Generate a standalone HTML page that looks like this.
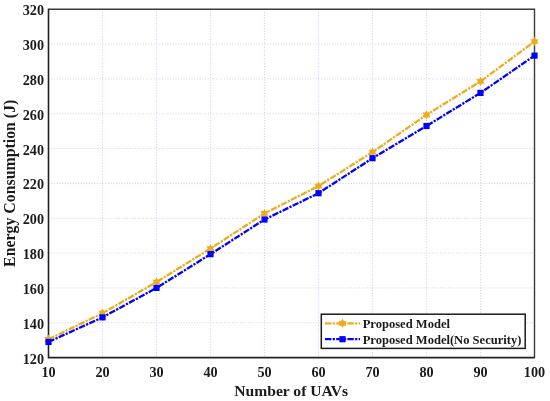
<!DOCTYPE html><html><head><meta charset="utf-8"><style>html,body{margin:0;padding:0;background:#fff}svg{display:block}text{font-family:"Liberation Serif",serif;font-weight:bold;fill:#1a1a1a}</style></head><body>
<svg width="550" height="401" viewBox="0 0 550 401">
<rect width="550" height="401" fill="#fff"/>
<path d="M102.50 9.3 V357.6 M156.50 9.3 V357.6 M210.50 9.3 V357.6 M264.50 9.3 V357.6 M318.50 9.3 V357.6 M372.50 9.3 V357.6 M426.50 9.3 V357.6 M480.50 9.3 V357.6 M48.5 322.77 H534.5 M48.5 287.94 H534.5 M48.5 253.11 H534.5 M48.5 218.28 H534.5 M48.5 183.45 H534.5 M48.5 148.62 H534.5 M48.5 113.79 H534.5 M48.5 78.96 H534.5 M48.5 44.13 H534.5" stroke="#ccccff" stroke-width="1" stroke-dasharray="1 1.7" fill="none"/>
<path d="M48.5 9.3 H534.5 V357.6" stroke="#3a3a3a" stroke-width="1.4" fill="none"/>
<path d="M48.5 8.8 V357.6 H535.0" stroke="#222" stroke-width="1.6" fill="none"/>
<path d="M48.50 339.31 L102.50 313.19 L156.50 282.02 L210.50 248.58 L264.50 213.40 L318.50 186.06 L372.50 152.10 L426.50 114.83 L480.50 81.40 L534.50 41.52" stroke="#EBAC1E" stroke-width="2.3" stroke-dasharray="6.4 1.3 2.2 1.3" fill="none"/>
<polygon points="48.50,334.61 49.85,336.98 52.57,336.96 51.20,339.31 52.57,341.66 49.85,341.65 48.50,344.01 47.15,341.65 44.43,341.66 45.80,339.31 44.43,336.96 47.15,336.98" fill="#EBAC1E"/>
<polygon points="102.50,308.49 103.85,310.85 106.57,310.84 105.20,313.19 106.57,315.54 103.85,315.53 102.50,317.89 101.15,315.53 98.43,315.54 99.80,313.19 98.43,310.84 101.15,310.85" fill="#EBAC1E"/>
<polygon points="156.50,277.32 157.85,279.68 160.57,279.67 159.20,282.02 160.57,284.37 157.85,284.36 156.50,286.72 155.15,284.36 152.43,284.37 153.80,282.02 152.43,279.67 155.15,279.68" fill="#EBAC1E"/>
<polygon points="210.50,243.88 211.85,246.24 214.57,246.23 213.20,248.58 214.57,250.93 211.85,250.92 210.50,253.28 209.15,250.92 206.43,250.93 207.80,248.58 206.43,246.23 209.15,246.24" fill="#EBAC1E"/>
<polygon points="264.50,208.70 265.85,211.07 268.57,211.05 267.20,213.40 268.57,215.75 265.85,215.74 264.50,218.10 263.15,215.74 260.43,215.75 261.80,213.40 260.43,211.05 263.15,211.07" fill="#EBAC1E"/>
<polygon points="318.50,181.36 319.85,183.72 322.57,183.71 321.20,186.06 322.57,188.41 319.85,188.40 318.50,190.76 317.15,188.40 314.43,188.41 315.80,186.06 314.43,183.71 317.15,183.72" fill="#EBAC1E"/>
<polygon points="372.50,147.40 373.85,149.76 376.57,149.75 375.20,152.10 376.57,154.45 373.85,154.44 372.50,156.80 371.15,154.44 368.43,154.45 369.80,152.10 368.43,149.75 371.15,149.76" fill="#EBAC1E"/>
<polygon points="426.50,110.13 427.85,112.50 430.57,112.48 429.20,114.83 430.57,117.18 427.85,117.17 426.50,119.53 425.15,117.17 422.43,117.18 423.80,114.83 422.43,112.48 425.15,112.50" fill="#EBAC1E"/>
<polygon points="480.50,76.70 481.85,79.06 484.57,79.05 483.20,81.40 484.57,83.75 481.85,83.74 480.50,86.10 479.15,83.74 476.43,83.75 477.80,81.40 476.43,79.05 479.15,79.06" fill="#EBAC1E"/>
<polygon points="534.50,36.82 535.85,39.18 538.57,39.17 537.20,41.52 538.57,43.87 535.85,43.86 534.50,46.22 533.15,43.86 530.43,43.87 531.80,41.52 530.43,39.17 533.15,39.18" fill="#EBAC1E"/>
<path d="M48.50 341.93 L102.50 317.37 L156.50 287.94 L210.50 254.15 L264.50 219.50 L318.50 193.20 L372.50 158.20 L426.50 125.98 L480.50 92.89 L534.50 55.62" stroke="#0000FF" stroke-width="2.3" stroke-dasharray="6.4 1.3 2.2 1.3" fill="none"/>
<rect x="45.40" y="338.83" width="6.2" height="6.2" fill="#0000FF"/>
<rect x="99.40" y="314.27" width="6.2" height="6.2" fill="#0000FF"/>
<rect x="153.40" y="284.84" width="6.2" height="6.2" fill="#0000FF"/>
<rect x="207.40" y="251.05" width="6.2" height="6.2" fill="#0000FF"/>
<rect x="261.40" y="216.40" width="6.2" height="6.2" fill="#0000FF"/>
<rect x="315.40" y="190.10" width="6.2" height="6.2" fill="#0000FF"/>
<rect x="369.40" y="155.10" width="6.2" height="6.2" fill="#0000FF"/>
<rect x="423.40" y="122.88" width="6.2" height="6.2" fill="#0000FF"/>
<rect x="477.40" y="89.79" width="6.2" height="6.2" fill="#0000FF"/>
<rect x="531.40" y="52.52" width="6.2" height="6.2" fill="#0000FF"/>
<text x="48.5" y="377.4" font-size="14.2" text-anchor="middle">10</text>
<text x="102.5" y="377.4" font-size="14.2" text-anchor="middle">20</text>
<text x="156.5" y="377.4" font-size="14.2" text-anchor="middle">30</text>
<text x="210.5" y="377.4" font-size="14.2" text-anchor="middle">40</text>
<text x="264.5" y="377.4" font-size="14.2" text-anchor="middle">50</text>
<text x="318.5" y="377.4" font-size="14.2" text-anchor="middle">60</text>
<text x="372.5" y="377.4" font-size="14.2" text-anchor="middle">70</text>
<text x="426.5" y="377.4" font-size="14.2" text-anchor="middle">80</text>
<text x="480.5" y="377.4" font-size="14.2" text-anchor="middle">90</text>
<text x="534.5" y="377.4" font-size="14.2" text-anchor="middle">100</text>
<text x="44" y="363.5" font-size="14.2" text-anchor="end">120</text>
<text x="44" y="328.7" font-size="14.2" text-anchor="end">140</text>
<text x="44" y="293.8" font-size="14.2" text-anchor="end">160</text>
<text x="44" y="259.0" font-size="14.2" text-anchor="end">180</text>
<text x="44" y="224.2" font-size="14.2" text-anchor="end">200</text>
<text x="44" y="189.4" font-size="14.2" text-anchor="end">220</text>
<text x="44" y="154.5" font-size="14.2" text-anchor="end">240</text>
<text x="44" y="119.7" font-size="14.2" text-anchor="end">260</text>
<text x="44" y="84.9" font-size="14.2" text-anchor="end">280</text>
<text x="44" y="50.0" font-size="14.2" text-anchor="end">300</text>
<text x="44" y="15.2" font-size="14.2" text-anchor="end">320</text>
<text x="291.2" y="395.6" font-size="15.6" text-anchor="middle">Number of UAVs</text>
<text transform="translate(15.2,183.3) rotate(-90)" font-size="15.85" text-anchor="middle">Energy Consumption (J)</text>
<rect x="321.3" y="314.2" width="203.9" height="34.2" fill="#fff" stroke="#1c1c1c" stroke-width="1.5"/>
<path d="M325 323.3 H360" stroke="#EBAC1E" stroke-width="2.3" stroke-dasharray="6.4 1.3 2.2 1.3"/>
<polygon points="342.50,318.60 343.85,320.96 346.57,320.95 345.20,323.30 346.57,325.65 343.85,325.64 342.50,328.00 341.15,325.64 338.43,325.65 339.80,323.30 338.43,320.95 341.15,320.96" fill="#EBAC1E"/>
<path d="M325 339.2 H360" stroke="#0000FF" stroke-width="2.3" stroke-dasharray="6.4 1.3 2.2 1.3"/>
<rect x="339.40" y="336.10" width="6.2" height="6.2" fill="#0000FF"/>
<text x="362.7" y="327.6" font-size="12.55">Proposed Model</text>
<text x="362.7" y="343.5" font-size="12.55">Proposed Model(No Security)</text>
</svg></body></html>
